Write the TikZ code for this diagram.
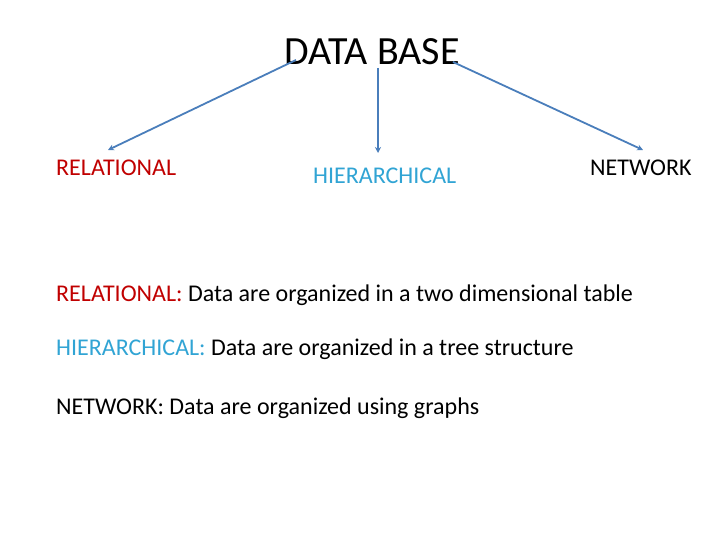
\documentclass[tikz,border=0pt]{standalone}
\usepackage{fontspec}
\usetikzlibrary{arrows.meta}
\setmainfont{Carlito}
\definecolor{relred}{HTML}{C00000}
\definecolor{hierblue}{HTML}{31A4D4}
\definecolor{arrowc}{HTML}{4A7EBB}
\begin{document}
\begin{tikzpicture}[x=1pt,y=-1pt,
  lab/.style={inner sep=0pt,font=\fontsize{24}{28}\selectfont},
  def/.style={inner sep=0pt,anchor=west,font=\fontsize{24}{28}\selectfont},
  conn/.style={draw=arrowc,line width=1.8pt,-{Stealth[length=6pt,width=6pt]}}]
\useasboundingbox (0,0) rectangle (720,540);
\node[inner sep=0pt,font=\fontsize{40}{44}\selectfont] (db) at (372,52) {DATA BASE};
\node[lab,text=relred,anchor=west] (rel) at (56,168) {RELATIONAL};
\node[lab,text=hierblue,anchor=west] (hier) at (313,176) {HIERARCHICAL};
\node[lab,anchor=west] (net) at (590,168) {NETWORK};
\coordinate (s1) at (296,60); \coordinate (e1) at (108,150);
\coordinate (s2) at (378,68); \coordinate (e2) at (378,153);
\coordinate (s3) at (453,62); \coordinate (e3) at (643,150);
\draw[conn] (s1) -- (e1);
\draw[conn] (s2) -- (e2);
\draw[conn] (s3) -- (e3);
\node[def] (d1) at (56,295) {\textcolor{relred}{RELATIONAL:} Data are organized in a two dimensional table};
\node[def] (d2) at (56,349) {\textcolor{hierblue}{HIERARCHICAL:} Data are organized in a tree structure};
\node[def] (d3) at (56,408) {NETWORK: Data are organized using graphs};
\end{tikzpicture}
\end{document}
